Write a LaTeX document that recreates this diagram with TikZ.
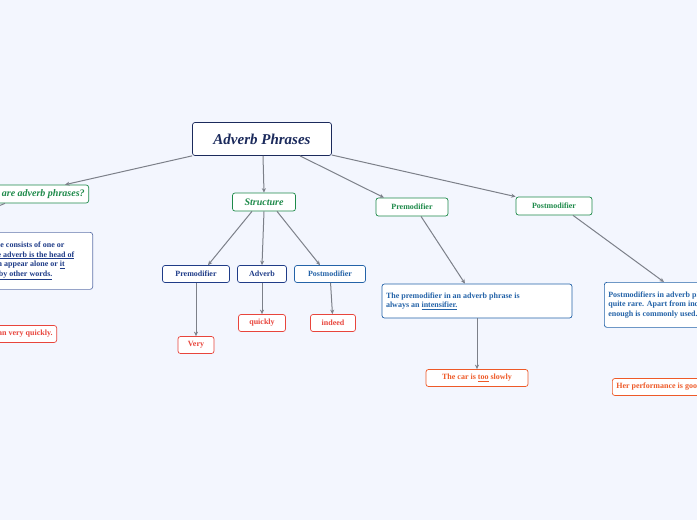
\documentclass[tikz,border=0pt]{standalone}
\usepackage{fontspec}
\setmainfont{Liberation Serif}
\usetikzlibrary{arrows.meta}
\definecolor{bg}{HTML}{F3F6FE}
\definecolor{navy}{HTML}{1B2A5C}
\definecolor{grn}{HTML}{1E8A4A}
\definecolor{dblue}{HTML}{1F3C88}
\definecolor{mblue}{HTML}{2463A8}
\definecolor{red1}{HTML}{E8453C}
\definecolor{org}{HTML}{EE5A28}
\definecolor{edge}{HTML}{8A8E98}
\begin{document}
\begin{tikzpicture}[x=1pt,y=-1pt,
  box/.style={draw,fill=white,rounded corners=2.5pt,line width=0.7pt,font=\bfseries\fontsize{8}{9.5}\selectfont,inner sep=4pt},
  gbox/.style={box,draw=grn,text=grn,font=\bfseries\itshape\fontsize{10}{11}\selectfont,minimum height=18pt},
  gbox2/.style={box,draw=grn,text=grn,minimum height=18pt},
  bbox/.style={box,draw=dblue,text=dblue,minimum height=17pt},
  lbox/.style={box,draw=mblue,text=mblue},
  rbox/.style={box,draw=red1,text=red1,minimum height=17pt},
  obox/.style={box,draw=org,text=org,minimum height=17pt},
  arr/.style={draw=edge!90!black,line width=1pt,-{Stealth[length=4.5pt,width=4pt]}}]
\fill[bg] (0,0) rectangle (697,520);
\useasboundingbox (0,0) rectangle (697,520);
\clip (0,0) rectangle (697,520);
\node[box,draw=navy,text=navy,font=\bfseries\itshape\fontsize{15}{16}\selectfont,minimum width=139pt,minimum height=33pt] (title) at (262,139) {Adverb Phrases};
\node[gbox,anchor=east] (what) at (89,194) {What are adverb phrases?};
\node[box,draw=dblue!70,text=dblue,anchor=north east,align=flush left,text width=146pt,minimum height=57pt] (def) at (93,232) {An adverb phrase consists of one or\\more words. \underline{The adverb is the head of}\\\underline{the phrase.} It can appear alone or \underline{it}\\\underline{can be modified by other words.}};
\node[rbox,anchor=east] (ex1) at (57,334) {She ran very quickly.};
\node[gbox,minimum width=63pt] (struct) at (264,202) {Structure};
\node[bbox,minimum width=67pt] (pre) at (196,274) {Premodifier};
\node[bbox,minimum width=49pt] (adv) at (262,274) {Adverb};
\node[lbox,minimum width=71pt,minimum height=17pt] (post) at (330,274) {Postmodifier};
\node[rbox,minimum width=36pt] (very) at (196,345) {Very};
\node[rbox,minimum width=47pt] (quick) at (262,323) {quickly};
\node[rbox,minimum width=45pt] (indeed) at (333,323) {indeed};
\node[gbox2,minimum width=72pt] (pre2) at (412,207) {Premodifier};
\node[gbox2,minimum width=76pt] (post2) at (554,206) {Postmodifier};
\node[lbox,align=flush left,text width=182pt,minimum height=34pt] (pretext) at (477,301) {The premodifier in an adverb phrase is\\always an \underline{intensifier.}};
\node[lbox,anchor=north west,align=flush left,text width=150pt,minimum height=45pt] (posttext) at (604,282) {Postmodifiers in adverb phrases are\\quite rare. Apart from indeed,\\enough is commonly used.};
\node[obox,minimum width=102pt] (car) at (477,378) {The car is \underline{too} slowly};
\node[obox,anchor=west] (her) at (612,387) {Her performance is good enough.};
\coordinate (whatin) at ([xshift=-24pt]what.north east);
\draw[arr] (title.south west) -- (whatin);
\draw[arr] ([xshift=-84pt]what.south east) -- ([xshift=-3pt]def.north west);
\draw[arr] ([xshift=1pt]title.south) -- (struct.north);
\draw[arr] ([xshift=38pt]title.south) -- ([xshift=-28pt]pre2.north);
\draw[arr] ([yshift=-16pt]title.east) -- (post2.north west);
\draw[arr] ([xshift=-12pt]struct.south) -- ([xshift=12pt]pre.north);
\draw[arr] (struct.south) -- (adv.north);
\draw[arr] ([xshift=13pt]struct.south) -- ([xshift=-10pt]post.north);
\draw[arr] (pre) -- (very);
\draw[arr] (adv) -- (quick);
\draw[arr] (post) -- (indeed);
\draw[arr] ([xshift=9pt]pre2.south) -- ([xshift=-12pt]pretext.north);
\draw[arr] ([xshift=19pt]post2.south) -- ([xshift=60pt]posttext.north west);
\draw[arr] (pretext) -- (car);
\end{tikzpicture}
\end{document}
